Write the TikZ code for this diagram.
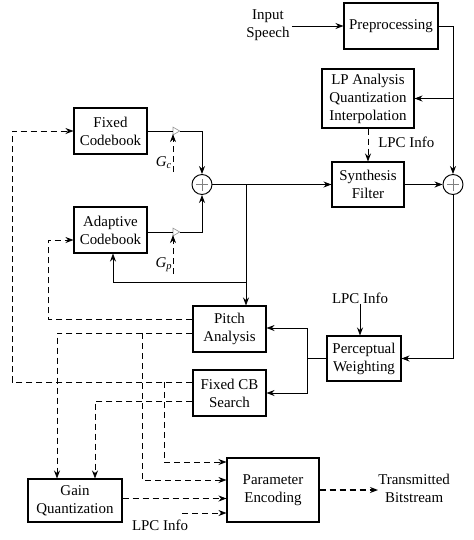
\documentclass[tikz,border=0pt]{standalone}
\usepackage{fontspec}
\setmainfont{Liberation Serif}
\usetikzlibrary{arrows.meta,calc,shapes.geometric}
\begin{document}
\begin{tikzpicture}[x=0.75pt,y=-0.75pt,
  font=\fontsize{11.2}{13.5}\selectfont,
  blk/.style={draw,line width=0.8pt,align=center,inner sep=1pt},
  ln/.style={line width=0.6pt},
  arr/.style={ln,-{Stealth[length=6pt,width=4.5pt]}},
  darr/.style={arr,dash pattern=on 4.5pt off 3pt},
  dln/.style={ln,dash pattern=on 4.5pt off 3pt},
  sumc/.style={circle,draw,line width=0.7pt,minimum size=15pt,inner sep=0pt,
    path picture={\draw[gray,line width=0.5pt]
      ([xshift=-4.5pt]path picture bounding box.center) -- ([xshift=4.5pt]path picture bounding box.center)
      ([yshift=-4.5pt]path picture bounding box.center) -- ([yshift=4.5pt]path picture bounding box.center);}},
  amp/.style={isosceles triangle,draw=gray!80,line width=0.5pt,isosceles triangle apex angle=60,minimum height=5pt,inner sep=0.8pt},
  lbl/.style={align=center,inner sep=0pt}]
\useasboundingbox (0,0) rectangle (474,540);

% blocks
\node[blk,minimum width=70.5pt,minimum height=34.5pt] (pre) at (391,26) {Preprocessing};
\node[blk,minimum width=69pt,minimum height=44.25pt] (lp) at (368,98.5) {LP Analysis\\Quantization\\Interpolation};
\node[blk,minimum width=54pt,minimum height=33.75pt] (syn) at (368,184.5) {Synthesis\\Filter};
\node[blk,minimum width=54.75pt,minimum height=34.5pt] (fc) at (110.5,131) {Fixed\\Codebook};
\node[blk,minimum width=54.75pt,minimum height=34.5pt] (ac) at (110.5,230) {Adaptive\\Codebook};
\node[blk,minimum width=54.75pt,minimum height=34.5pt] (pa) at (229.5,329) {Pitch\\Analysis};
\node[blk,minimum width=54.75pt,minimum height=34.5pt] (fcb) at (229.5,393) {Fixed CB\\Search};
\node[blk,minimum width=55.5pt,minimum height=33.75pt] (pw) at (364,358.5) {Perceptual\\Weighting};
\node[blk,minimum width=70.5pt,minimum height=32.25pt] (gq) at (75,500.5) {Gain\\Quantization};
\node[blk,minimum width=69pt,minimum height=48pt] (pe) at (273,490) {Parameter\\Encoding};

% sums and amplifiers
\node[sumc] (sum1) at (202,184.5) {};
\node[sumc] (sum2) at (453,184.5) {};
\node[amp] (amp1) at (175,131) {};
\node[amp] (amp2) at (175,232) {};

% labels
\node[lbl] (in) at (268,25) {Input\\Speech};
\node[lbl,anchor=west] (lpc1) at (378,142) {LPC Info};
\node[lbl] (lpc2) at (360,298) {LPC Info};
\node[lbl] (lpc3) at (160,525) {LPC Info};
\node[lbl] (gc) at (164,163) {\textit{G}\textsubscript{\textit{c}}};
\node[lbl] (gp) at (164,265) {\textit{G}\textsubscript{\textit{p}}};
\node[lbl,anchor=west] (tb) at (378,488) {Transmitted\\Bitstream};

% coordinates
\coordinate (j1) at (453,98.5);
\coordinate (j2) at (307,358.5);
\coordinate (j3) at (246,184.5);
\coordinate (j4) at (246,282);
\coordinate (gcb) at (173,172);
\coordinate (gpb) at (173,274);
\coordinate (o1) at (12,382);
\coordinate (i1) at (48,319);
\coordinate (p1) at (57,333);
\coordinate (p2) at (142,333);
\coordinate (f1) at (95,401);
\coordinate (f2) at (164,382);
\coordinate (lp3) at (182,513);
\coordinate (tbw) at (378,490);

% solid connectors
\draw[arr] (in.east |- pre.west) ++(2,0) -- (pre.west);
\draw[arr] (pre.east) -| (sum2.north);
\draw[arr] (j1) -- (lp.east);
\draw[darr] (lp.south) -- (syn.north);
\draw[arr] (syn.east) -- (sum2.west);
\draw[arr] (sum2.south) |- (pw.east);
\draw[ln] (pw.west) -- (j2);
\draw[arr] (j2) |- ($(pa.east)+(0,-1)$);
\draw[arr] (j2) |- (fcb.east);
\draw[arr] (lpc2.south) -- (lpc2.south |- pw.north);
\draw[arr] (sum1.east) -- (syn.west);
\draw[arr] (j3) -- (j3 |- pa.north);
\draw[arr] (j4) -| ($(ac.south)+(2.5,0)$);
\draw[ln] (fc.east) -- (amp1.west);
\draw[arr] (amp1.east) -| (sum1.north);
\draw[ln] ($(ac.east)+(0,2)$) -- (amp2.west);
\draw[arr] (amp2.east) -| (sum1.south);
\draw[darr] (gcb) -- (amp1.south -| gcb);
\draw[darr] (gpb) -- (amp2.south -| gpb);

% dashed connectors
\draw[darr] ($(fcb.west)+(0,-11)$) -- (o1) |- (fc.west);
\draw[darr] ($(pa.west)+(0,-10)$) -- (i1) |- ($(ac.west)+(0,10)$);
\draw[darr] ($(pa.west)+(0,4)$) -- (p1) -- (p1 |- gq.north);
\draw[darr] (p2) |- ($(pe.west)+(0,-10)$);
\draw[darr] ($(fcb.west)+(0,8)$) -- (f1) -- (f1 |- gq.north);
\draw[darr] (f2) |- ($(pe.west)+(0,-28)$);
\draw[darr] ($(gq.east)+(0,-2)$) -- (pe.west |- {$(gq.east)+(0,-2)$});
\draw[darr] (lp3) -- (pe.west |- lp3);
\draw[darr,line width=1.1pt] (pe.east) -- (tbw);
\end{tikzpicture}
\end{document}
